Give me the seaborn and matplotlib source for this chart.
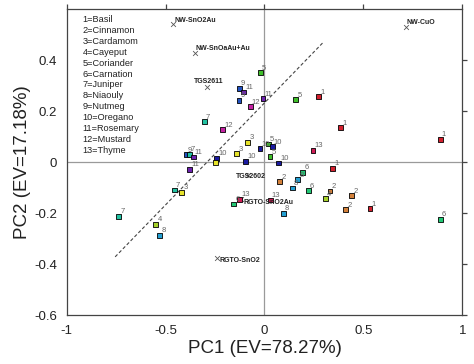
import matplotlib
matplotlib.use("Agg")
import matplotlib.pyplot as plt
import seaborn as sns
import pandas as pd

# ---- data ----
oil_names = ["Basil", "Cinnamon", "Cardamom", "Cayeput", "Coriander", "Carnation",
             "Juniper", "Niaouly", "Nutmeg", "Oregano", "Rosemary", "Mustard", "Thyme"]
oil_colors = ["#d2202e", "#d3803a", "#e6e22a", "#a6d12a", "#3fbf2a", "#22c875",
              "#22c2a2", "#239fd2", "#2252c2", "#1a1aa0", "#6e22b0", "#c422a2", "#d01b55"]

pc1 = [-0.396, -0.380, -0.360, -0.378, -0.456, -0.418, -0.738, -0.549, -0.531,
       -0.304, -0.211, -0.127, -0.105, -0.129, -0.072, -0.008, -0.021, 0.158,
       0.273, 0.385, 0.888, 0.245, 0.344, -0.085, -0.141, -0.097, -0.023, 0.019,
       0.039, 0.028, 0.070, -0.241, -0.246, 0.194, 0.168, 0.077, 0.140, 0.221,
       0.331, 0.309, 0.440, 0.410, 0.533, 0.888, 0.029, 0.095, -0.126, -0.155]
pc2 = [0.029, 0.031, 0.020, -0.028, -0.109, -0.118, -0.212, -0.243, -0.286,
       0.159, 0.127, 0.290, 0.275, 0.243, 0.218, 0.249, 0.351, 0.245,
       0.256, 0.135, 0.090, 0.047, -0.024, 0.078, 0.033, 0.004, 0.054, 0.071,
       0.060, 0.021, -0.003, 0.015, -0.001, -0.039, -0.069, -0.077, -0.101, -0.111,
       -0.113, -0.144, -0.131, -0.187, -0.182, -0.224, -0.148, -0.200, -0.145, -0.164]
oil_id = [9, 7, 11, 11, 7, 3, 7, 4, 8,
          7, 12, 9, 11, 9, 12, 11, 5, 5,
          1, 1, 1, 13, 1, 3, 3, 10, 10, 5,
          10, 5, 10, 10, 3, 6, 8, 2, 8, 6,
          2, 4, 2, 2, 1, 6, 13, 8, 13, 6]
# point numbers hidden under other marks in the original
hidden_labels = [32]

sensor_names = ["NW-SnO2Au", "NW-SnOaAu+Au", "TGS2611", "NW-CuO",
                "TGS2602", "RGTO-SnO2Au", "RGTO-SnO2"]
sensor_x = [-0.461, -0.351, -0.290, 0.715, -0.085, -0.119, -0.238]
sensor_y = [0.541, 0.427, 0.293, 0.528, -0.049, -0.146, -0.375]

trend_x = [-0.755, 0.294]
trend_y = [-0.371, 0.467]

xlabel = "PC1 (EV=78.27%)"
ylabel = "PC2 (EV=17.18%)"
xticks = [-1, -0.5, 0, 0.5, 1]
xticklabels = ["-1", "-0.5", "0", "0.5", "1"]
yticks = [-0.6, -0.4, -0.2, 0, 0.2, 0.4]
yticklabels = ["-0.6", "-0.4", "-0.2", "0", "0.2", "0.4"]

# ---- plot ----
sns.set_style("white")
plt.rcParams["font.family"] = ["Liberation Sans", "DejaVu Sans"]

fig = plt.figure(figsize=(4.74, 3.64), dpi=100)
ax = fig.add_axes([0.1407, 0.1338, 0.8346, 0.8415])

ax.axhline(0, color="#9a9a9a", lw=0.9, zorder=1)
ax.axvline(0, color="#9a9a9a", lw=0.9, zorder=1)

ax.plot(trend_x, trend_y, color="#444444", lw=0.8, ls=(0, (3, 2)), zorder=2)

df = pd.DataFrame({"pc1": pc1, "pc2": pc2,
                   "oil": [str(i) for i in oil_id]})
palette = {str(i + 1): c for i, c in enumerate(oil_colors)}
sns.scatterplot(data=df, x="pc1", y="pc2", hue="oil", palette=palette,
                marker="s", s=12, edgecolor="black", linewidth=0.6,
                legend=False, ax=ax, zorder=4)
for k, (xv, yv, lab) in enumerate(zip(pc1, pc2, oil_id)):
    if k in hidden_labels:
        continue
    ax.annotate(str(lab), (xv, yv), xytext=(1.2, 0.6), textcoords="offset points",
                ha="left", va="bottom", fontsize=5.5, color="#666666", zorder=5)

sdf = pd.DataFrame({"x": sensor_x, "y": sensor_y})
sns.scatterplot(data=sdf, x="x", y="y", marker="x", s=12, color="#555555",
                linewidth=0.6, legend=False, ax=ax, zorder=3)
sensor_offsets = [(0.7, 2.8, "left"), (0.4, 3.5, "left"), (1.0, 3.9, "center"),
                  (0.4, 3.7, "left"), (2.6, -1.0, "center"), (1.5, -2.2, "left"),
                  (1.2, -2.0, "left")]
for name, xv, yv, (dx, dy, ha) in zip(sensor_names, sensor_x, sensor_y, sensor_offsets):
    ax.annotate(name, (xv, yv), xytext=(dx, dy), textcoords="offset points",
                ha=ha, va="center", fontsize=5.0, fontweight="bold",
                color="#222222", zorder=6)

legend_text = "\n".join(f"{i + 1}={n}" for i, n in enumerate(oil_names))
ax.text(0.040, 0.980, legend_text, transform=ax.transAxes, ha="left", va="top",
        fontsize=6.6, color="#222222", linespacing=1.27)

ax.set_xlim(-1, 1)
ax.set_ylim(-0.6, 0.6)
ax.set_xticks(xticks)
ax.set_xticklabels(xticklabels)
ax.set_yticks(yticks)
ax.set_yticklabels(yticklabels)
ax.tick_params(axis="both", which="both", direction="out", length=3.5, width=0.9,
               color="#444444", labelsize=9.5, labelcolor="#222222",
               top=True, right=True, labeltop=False, labelright=False)
for sp in ax.spines.values():
    sp.set_visible(True)
    sp.set_color("#444444")
    sp.set_linewidth(0.9)

ax.set_xlabel(xlabel, fontsize=13.5, color="#222222", labelpad=2)
ax.set_ylabel(ylabel, fontsize=13.5, color="#222222", labelpad=2)

fig.savefig("out.png", dpi=100)
